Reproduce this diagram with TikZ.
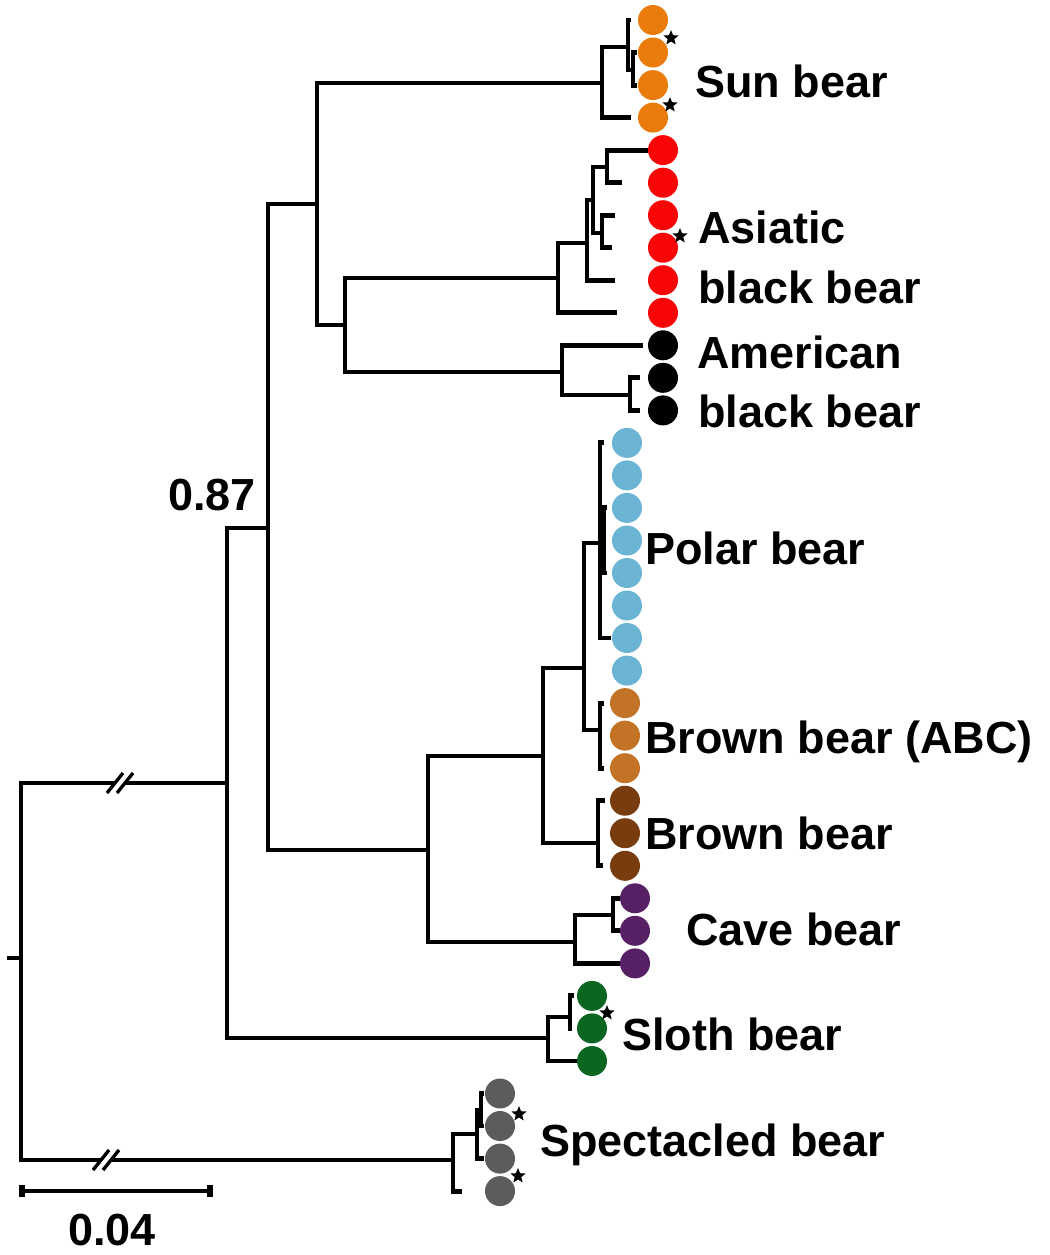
\documentclass[tikz,border=0pt]{standalone}
\usepackage{fontspec}
\setmainfont{Liberation Sans}
\usetikzlibrary{shapes.geometric}
\definecolor{sunc}{RGB}{234,124,14}
\definecolor{redc}{RGB}{250,5,5}
\definecolor{polarc}{RGB}{108,180,212}
\definecolor{abcc}{RGB}{195,115,38}
\definecolor{brownc}{RGB}{120,60,14}
\definecolor{cavec}{RGB}{88,32,100}
\definecolor{slothc}{RGB}{10,102,32}
\definecolor{specc}{RGB}{92,92,92}
\tikzset{
  branch/.style={line width=2.8pt, line join=miter},
  dot/.style={circle, fill=#1, minimum size=0.6cm, inner sep=0pt},
  etoile/.style={star, star points=5, star point ratio=2.3, fill=black, minimum size=0.32cm, inner sep=0pt},
  lab/.style={font=\fontsize{25.6}{30}\selectfont\bfseries, anchor=base west, inner sep=0pt},
  cut/.pic={
    \draw[white, line width=3.6pt] (-7,10) -- (7,-10);
    \draw[line width=1.9pt] (-13,10) -- (3,-10) (-3,10) -- (13,-10);
  }
}
\begin{document}
\begin{tikzpicture}[x=0.02cm, y=-0.02cm]
  \useasboundingbox (0,0) rectangle (1050,1255);

  % Noeuds internes
  \coordinate (stub) at (7,958);
  \coordinate (root) at (21,958);
  \coordinate (nA) at (227,783);
  \coordinate (nT) at (453,1160);
  \coordinate (nB) at (268,528);
  \coordinate (nS) at (548,1038);
  \coordinate (nC) at (317,204);
  \coordinate (nD) at (428,850);
  \coordinate (nSun) at (602,83);
  \coordinate (nSun1) at (628,47);
  \coordinate (nSun2) at (633,70);
  \coordinate (nE) at (345,325);
  \coordinate (nF) at (558,278);
  \coordinate (nF1) at (587,243);
  \coordinate (nF2) at (593,200);
  \coordinate (nF3) at (607,167);
  \coordinate (nF4) at (602,233);
  \coordinate (nG) at (562,372);
  \coordinate (nG1) at (630,395);
  \coordinate (nH) at (543,756);
  \coordinate (nI) at (584,668);
  \coordinate (nP) at (600,543);
  \coordinate (nP2) at (604,540);
  \coordinate (nAbc) at (600,730);
  \coordinate (nBr) at (598,843);
  \coordinate (nK) at (575,942);
  \coordinate (nK1) at (613,915);
  \coordinate (nS1) at (570,1017);
  \coordinate (nT1) at (477,1134);
  \coordinate (nT2) at (481,1110);

  % Extremites des branches
  \coordinate (t-sun1) at (631,20);
  \coordinate (t-sun2) at (637,52.5);
  \coordinate (t-sun3) at (637,85.1);
  \coordinate (t-sun4) at (631,117.6);
  \coordinate (t-red1) at (648,150.1);
  \coordinate (t-red2) at (622,182.7);
  \coordinate (t-red3) at (615,215.2);
  \coordinate (t-red4) at (612,247.7);
  \coordinate (t-red5) at (615,280.2);
  \coordinate (t-red6) at (617,312.8);
  \coordinate (t-blk1) at (643,345.3);
  \coordinate (t-blk2) at (640,377.8);
  \coordinate (t-blk3) at (640,410.4);
  \coordinate (t-pol1) at (604,442.9);
  \coordinate (t-pol3) at (607,507.9);
  \coordinate (t-pol5) at (607,573);
  \coordinate (t-pol7) at (611,638);
  \coordinate (t-abc1) at (604,703.1);
  \coordinate (t-abc3) at (604,768.2);
  \coordinate (t-brn1) at (605,800.7);
  \coordinate (t-brn3) at (603,865.8);
  \coordinate (t-cav1) at (620,898.3);
  \coordinate (t-cav2) at (620,930.8);
  \coordinate (t-cav3) at (620,963.4);
  \coordinate (t-slo1) at (574,995.9);
  \coordinate (t-slo2) at (572,1028.4);
  \coordinate (t-slo3) at (577,1061);
  \coordinate (t-spe1) at (484,1093.5);
  \coordinate (t-spe2) at (484,1126);
  \coordinate (t-spe3) at (484,1158.6);
  \coordinate (t-spe4) at (462,1191.1);

  % Branches
  \draw[branch] (stub) -- (root);
  \draw[branch] (root) |- (nA) (root) |- (nT);
  \draw[branch] (nA) |- (nB) (nA) |- (nS);
  \draw[branch] (nB) |- (nC) (nB) |- (nD);
  \draw[branch] (nC) |- (nSun) (nC) |- (nE);
  \draw[branch] (nSun) |- (nSun1) (nSun) |- (t-sun4);
  \draw[branch] (nSun1) |- (t-sun1) (nSun1) |- (nSun2);
  \draw[branch] (nSun2) |- (t-sun2) (nSun2) |- (t-sun3);
  \draw[branch] (nE) |- (nF) (nE) |- (nG);
  \draw[branch] (nF) |- (nF1) (nF) |- (t-red6);
  \draw[branch] (nF1) |- (nF2) (nF1) |- (t-red5);
  \draw[branch] (nF2) |- (nF3) (nF2) |- (nF4);
  \draw[branch] (nF3) |- (t-red1) (nF3) |- (t-red2);
  \draw[branch] (nF4) |- (t-red3) (nF4) |- (t-red4);
  \draw[branch] (nG) |- (t-blk1) (nG) |- (nG1);
  \draw[branch] (nG1) |- (t-blk2) (nG1) |- (t-blk3);
  \draw[branch] (nD) |- (nH) (nD) |- (nK);
  \draw[branch] (nH) |- (nI) (nH) |- (nBr);
  \draw[branch] (nI) |- (nP) (nI) |- (nAbc);
  \draw[branch] (nP) |- (t-pol1) (nP) |- (t-pol7) (nP) |- (nP2);
  \draw[branch] (nP2) |- (t-pol3) (nP2) |- (t-pol5);
  \draw[branch] (nAbc) |- (t-abc1) (nAbc) |- (t-abc3);
  \draw[branch] (nBr) |- (t-brn1) (nBr) |- (t-brn3);
  \draw[branch] (nK) |- (nK1) (nK) |- (t-cav3);
  \draw[branch] (nK1) |- (t-cav1) (nK1) |- (t-cav2);
  \draw[branch] (nS) |- (nS1) (nS) |- (t-slo3);
  \draw[branch] (nS1) |- (t-slo1) (nS1) |- (t-slo2);
  \draw[branch] (nT) |- (nT1) (nT) |- (t-spe4);
  \draw[branch] (nT1) |- (nT2) (nT1) |- (t-spe3);
  \draw[branch] (nT2) |- (t-spe1) (nT2) |- (t-spe2);

  % Coupures
  \pic at (120,783) {cut};
  \pic at (106,1160) {cut};

  % Echelle
  \coordinate (sbL) at (22,1191);
  \coordinate (sbR) at (210,1191);
  \draw[branch] (sbL) -- (sbR);
  \draw[line width=3.2pt] (sbL) ++(0,-6) -- ++(0,12);
  \draw[line width=3.2pt] (sbR) ++(0,-6) -- ++(0,12);
  \node[lab, anchor=base] (lScale) at (112,1245) {0.04};
  \node[lab] (lBoot) at (168,510) {0.87};

  % Pastilles
  \foreach \i/\y in {1/20,2/52.5,3/85.1,4/117.6}
    \node[dot=sunc] (sun\i) at (653,\y) {};
  \foreach \i/\y in {1/150.1,2/182.7,3/215.2,4/247.7,5/280.2,6/312.8}
    \node[dot=redc] (red\i) at (663,\y) {};
  \foreach \i/\y in {1/345.3,2/377.8,3/410.4}
    \node[dot=black] (blk\i) at (663,\y) {};
  \foreach \i/\y in {1/442.9,2/475.4,3/507.9,4/540.5,5/573,6/605.5,7/638,8/670.6}
    \node[dot=polarc] (pol\i) at (627,\y) {};
  \foreach \i/\y in {1/703.1,2/735.6,3/768.2}
    \node[dot=abcc] (abc\i) at (625,\y) {};
  \foreach \i/\y in {1/800.7,2/833.2,3/865.8}
    \node[dot=brownc] (brn\i) at (625,\y) {};
  \foreach \i/\y in {1/898.3,2/930.8,3/963.4}
    \node[dot=cavec] (cav\i) at (635,\y) {};
  \foreach \i/\y in {1/995.9,2/1028.4,3/1061}
    \node[dot=slothc] (slo\i) at (592,\y) {};
  \foreach \i/\y in {1/1093.5,2/1126,3/1158.6,4/1191.1}
    \node[dot=specc] (spe\i) at (500,\y) {};

  % Etoiles
  \node[etoile] (st1) at (671,38) {};
  \node[etoile] (st2) at (670,105) {};
  \node[etoile] (st3) at (680,236) {};
  \node[etoile] (st4) at (607,1013) {};
  \node[etoile] (st5) at (519,1114) {};
  \node[etoile] (st6) at (518,1176) {};

  % Especes
  \node[lab] (lSun) at (695,97) {Sun bear};
  \node[lab] (lAsia) at (698,243) {Asiatic};
  \node[lab] (lAsia2) at (698,303) {black bear};
  \node[lab] (lAm) at (697,368) {American};
  \node[lab] (lAm2) at (698,427) {black bear};
  \node[lab] (lPolar) at (645,564) {Polar bear};
  \node[lab] (lAbc) at (645,753) {Brown bear (ABC)};
  \node[lab] (lBrown) at (645,849) {Brown bear};
  \node[lab] (lCave) at (686,945) {Cave bear};
  \node[lab] (lSloth) at (622,1050) {Sloth bear};
  \node[lab] (lSpec) at (540,1156) {Spectacled bear};
\end{tikzpicture}
\end{document}
